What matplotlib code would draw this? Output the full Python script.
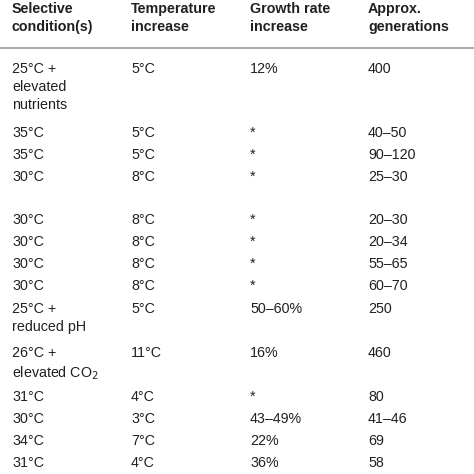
import matplotlib.pyplot as plt

headers = ["Selective\ncondition(s)", "Temperature\nincrease", "Growth rate\nincrease", "Approx.\ngenerations"]
conditions = ["25°C +\nelevated\nnutrients", "35°C", "35°C", "30°C", "", "30°C", "30°C", "30°C", "30°C",
              "25°C +\nreduced pH", "26°C +\nelevated CO$_2$", "31°C", "30°C", "34°C", "31°C"]
temp_inc = ["5°C", "5°C", "5°C", "8°C", "", "8°C", "8°C", "8°C", "8°C",
            "5°C", "11°C", "4°C", "3°C", "7°C", "4°C"]
growth = ["12%", "*", "*", "*", "", "*", "*", "*", "*", "50–60%", "16%", "*", "43–49%", "22%", "36%"]
gens = ["400", "40–50", "90–120", "25–30", "", "20–30", "20–34", "55–65", "60–70",
        "250", "460", "80", "41–46", "69", "58"]
# top y (px) of each row
row_y = [70, 134, 156, 178, 200, 221, 243, 265, 287, 310, 354, 398, 420, 442, 464]

W = H = 474
fig = plt.figure(figsize=(4.74, 4.74), dpi=100)
plt.rcParams['font.family'] = ['Liberation Sans', 'DejaVu Sans']
col_x = [12, 131, 250, 368]
fs = 10.3
lh = 1.35

for x, h in zip(col_x, headers):
    fig.text(x / W, 1 - 2 / H, h, fontsize=fs, fontweight='bold', va='top', ha='left',
             color='#231f20', linespacing=lh)

fig.add_artist(plt.Line2D([0, 1], [1 - 48 / H, 1 - 48 / H], color='#999999', lw=1.2))

for i, y in enumerate(row_y):
    for x, col in zip(col_x, [conditions, temp_inc, growth, gens]):
        if col[i]:
            fig.text(x / W, 1 - (y - 8) / H, col[i], fontsize=fs, va='top', ha='left',
                     color='#231f20', linespacing=lh)

plt.savefig("out.png", dpi=100)
